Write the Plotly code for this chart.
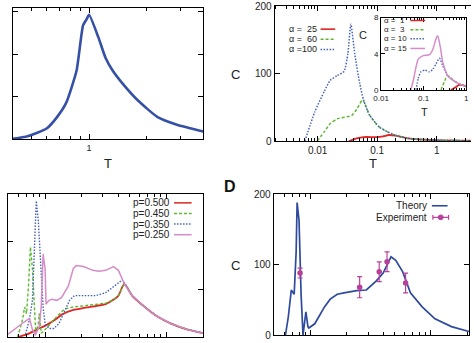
import plotly.graph_objects as go

W, H = 474, 343

# ---------------- data ----------------
# Panel A
a_T = [0.40, 0.477, 0.60, 0.68, 0.76, 0.86, 0.93, 0.97, 1.0, 1.12, 1.22, 1.33, 1.49, 1.80, 2.28, 2.88, 3.95]
a_C = [0.01, 0.07, 0.25, 0.52, 0.86, 1.61, 2.68, 2.82, 2.93, 2.39, 1.91, 1.61, 1.32, 0.91, 0.52, 0.34, 0.18]

# Panel B main
b_tail_T = [0.074, 0.108, 0.183, 0.335, 0.927, 3.75]
b_tail_C = [39, 21, 10, 4, 1.4, 0.5]
b100_T = [0.00612, 0.00893, 0.0130, 0.0163, 0.0213, 0.0277, 0.0322, 0.0361, 0.0420, 0.0507, 0.0589] + b_tail_T
b100_C = [0, 43, 74, 90, 97, 103, 130, 173, 129, 86, 61] + b_tail_C
b60_T = [0.0098, 0.0130, 0.0163, 0.0213, 0.0310, 0.0375, 0.0453, 0.0568] + b_tail_T
b60_C = [0, 14, 26, 33, 36, 38, 47, 61] + b_tail_C
b25_T = [0.0335, 0.0453, 0.0589, 0.0964, 0.125, 0.157, 0.205, 0.335, 0.927, 3.75]
b25_C = [0, 4, 6, 6, 7, 9, 8, 4, 1.4, 0.5]

# Panel B inset
i_tail_T = [0.366, 0.521, 0.740, 1.0]
i_tail_C = [1.6, 1.0, 0.62, 0.4]
i15_T = [0.0498, 0.0574, 0.0647, 0.0748, 0.0975, 0.139, 0.165, 0.197, 0.215, 0.248, 0.281] + i_tail_T
i15_C = [0, 1.1, 2.3, 3.4, 3.8, 3.9, 4.5, 5.7, 6.0, 4.7, 3.1] + i_tail_C
i10_T = [0.0662, 0.0748, 0.0863, 0.107, 0.139, 0.165, 0.197, 0.236, 0.281] + i_tail_T
i10_C = [0, 1.3, 2.0, 2.2, 2.0, 2.3, 2.9, 3.5, 2.7] + i_tail_C
i3_T = [0.256, 0.307] + i_tail_T
i3_C = [0, 0.9] + i_tail_C
i1_T = [0.436, 0.568, 0.68, 0.81, 1.0]
i1_C = [0, 0.3, 0.55, 0.55, 0.4]

# Panel C
c_tail_T = [5.22, 6.65, 8.45, 10.96, 14.8, 20.2]
c_tail_C = [0.87, 0.63, 0.43, 0.28, 0.16, 0.08]
c500_T = [0.60, 0.716, 0.861, 1.04, 1.25, 1.37, 1.71, 2.07, 2.62, 3.16, 3.60, 4.03, 4.50] + c_tail_T
c500_C = [0.0, 0.06, 0.16, 0.26, 0.39, 0.47, 0.57, 0.61, 0.65, 0.69, 0.77, 0.87, 1.12] + c_tail_C
c450_T = [0.594, 0.653, 0.677, 0.703, 0.730, 0.757, 0.786, 0.815, 0.838, 0.879, 0.895, 0.929, 1.04, 1.25, 1.45, 1.71, 2.31, 3.16, 3.60, 4.03, 4.50] + c_tail_T
c450_C = [0, 0.37, 0.63, 0.49, 1.08, 1.89, 1.44, 0.49, 0.08, 0.28, 0.49, 0.08, 0.2, 0.43, 0.59, 0.63, 0.67, 0.71, 0.77, 0.87, 1.12] + c_tail_C
c350_T = [0.690, 0.743, 0.786, 0.815, 0.846, 0.879, 0.911, 0.929, 0.963, 1.0, 1.077, 1.18, 1.30, 1.42, 1.59, 1.75, 2.07, 2.62, 3.16, 3.81, 4.34, 4.67] + c_tail_T
c350_C = [0.06, 0.37, 0.77, 1.78, 2.86, 2.45, 1.70, 1.10, 0.63, 0.28, 0.18, 0.18, 0.28, 0.49, 0.77, 0.87, 0.87, 0.87, 0.93, 1.10, 1.20, 1.08] + c_tail_C
c250_T = [0.494, 0.594, 0.677, 0.743, 0.786, 0.830, 0.895, 0.929, 0.963, 1.0, 1.019, 1.077, 1.14, 1.25, 1.37, 1.56, 1.71, 1.81, 2.07, 2.48, 2.78, 3.16, 3.67, 4.03, 4.50] + c_tail_T
c250_C = [0.06, 0.22, 0.32, 0.39, 0.16, 0.04, 0.22, 0.63, 1.74, 1.44, 0.69, 0.77, 0.79, 0.77, 0.83, 1.08, 1.44, 1.50, 1.48, 1.40, 1.38, 1.40, 1.48, 1.40, 1.12] + c_tail_C

# Panel D
d_T = [0.615, 0.650, 0.688, 0.727, 0.755, 0.769, 0.798, 0.830, 0.861, 0.910, 0.946, 0.963, 1.078, 1.30, 1.45, 1.66, 1.89, 2.41, 2.90, 3.51, 4.00, 4.65, 5.09, 5.81, 6.75, 8.45, 10.8, 14.8, 20.7]
d_C = [0, 26, 64, 58, 118, 188, 163, 58, 0, 33, 12, 10, 16, 40, 51, 58, 60, 63, 64, 77, 88, 111, 106, 90, 60, 40, 23, 12, 5]
e_T = [0.814, 2.55, 3.71, 4.31, 6.15]
e_C = [88, 68, 90, 104, 74]
e_err = [7, 15, 14, 14, 14]

NB = "\u00a0"
legend_B = ["\u03b1 =" + NB * 2 + "25", "\u03b1 =" + NB * 2 + "60", "\u03b1 =100"]
legend_I = ["\u03b1 =" + NB * 2 + "1", "\u03b1 =" + NB * 2 + "3", "\u03b1 = 10", "\u03b1 = 15"]
legend_C = ["p=0.500", "p=0.450", "p=0.350", "p=0.250"]
legend_D = ["Theory", "Experiment"]

RED = "#dd2525"
GREEN = "#5cb82e"
BLUE = "#4563b3"
PINK = "#d58cc8"
ABLUE = "#3550a5"
DBLUE = "#2d4a9c"
EPINK = "#b8409a"
FONT = "Liberation Sans, Arial, sans-serif"


def px(x):
    return x / W


def py(y):
    return 1 - y / H


def minors(decades, lo=None, hi=None):
    vals = []
    for d in decades:
        for k in range(2, 10):
            v = k * d
            if (lo is None or v >= lo) and (hi is None or v <= hi):
                vals.append(v)
    return vals


fig = go.Figure()

# Panel A
fig.add_trace(go.Scatter(x=a_T, y=a_C, mode="lines", line=dict(color=ABLUE, width=2.6, shape="spline", smoothing=0.5),
                         xaxis="x", yaxis="y", showlegend=False))
# Panel B
fig.add_trace(go.Scatter(x=b25_T, y=b25_C, mode="lines", line=dict(color=RED, width=1.8, shape="spline", smoothing=0.6),
                         xaxis="x2", yaxis="y2", showlegend=False))
fig.add_trace(go.Scatter(x=b60_T, y=b60_C, mode="lines", line=dict(color=GREEN, width=1.5, dash="3px,2px", shape="spline", smoothing=0.6),
                         xaxis="x2", yaxis="y2", showlegend=False))
fig.add_trace(go.Scatter(x=b100_T, y=b100_C, mode="lines", line=dict(color=BLUE, width=1.5, dash="1.5px,1.5px", shape="spline", smoothing=0.6),
                         xaxis="x2", yaxis="y2", showlegend=False))
# Inset
fig.add_trace(go.Scatter(x=i1_T, y=i1_C, mode="lines", line=dict(color=RED, width=1.8, shape="spline", smoothing=0.6),
                         xaxis="x3", yaxis="y3", showlegend=False))
fig.add_trace(go.Scatter(x=i3_T, y=i3_C, mode="lines", line=dict(color=GREEN, width=1.4, dash="3px,2px", shape="spline", smoothing=0.6),
                         xaxis="x3", yaxis="y3", showlegend=False))
fig.add_trace(go.Scatter(x=i10_T, y=i10_C, mode="lines", line=dict(color=BLUE, width=1.4, dash="1.5px,1.5px", shape="spline", smoothing=0.6),
                         xaxis="x3", yaxis="y3", showlegend=False))
fig.add_trace(go.Scatter(x=i15_T, y=i15_C, mode="lines", line=dict(color=PINK, width=1.5, shape="spline", smoothing=0.6),
                         xaxis="x3", yaxis="y3", showlegend=False))
# Panel C
fig.add_trace(go.Scatter(x=c500_T, y=c500_C, mode="lines", line=dict(color=RED, width=1.8, shape="spline", smoothing=0.5),
                         xaxis="x4", yaxis="y4", showlegend=False))
fig.add_trace(go.Scatter(x=c450_T, y=c450_C, mode="lines", line=dict(color=GREEN, width=1.4, dash="3px,2px"),
                         xaxis="x4", yaxis="y4", showlegend=False))
fig.add_trace(go.Scatter(x=c350_T, y=c350_C, mode="lines", line=dict(color=BLUE, width=1.4, dash="1.5px,1.5px"),
                         xaxis="x4", yaxis="y4", showlegend=False))
fig.add_trace(go.Scatter(x=c250_T, y=c250_C, mode="lines", line=dict(color=PINK, width=1.5),
                         xaxis="x4", yaxis="y4", showlegend=False))
# Panel D
fig.add_trace(go.Scatter(x=d_T, y=d_C, mode="lines", line=dict(color=DBLUE, width=1.7),
                         xaxis="x5", yaxis="y5", showlegend=False))
fig.add_trace(go.Scatter(x=e_T, y=e_C, mode="markers", marker=dict(color=EPINK, size=5.5, symbol="circle"),
                         error_y=dict(type="data", array=e_err, color=EPINK, thickness=1.2, width=2.5),
                         xaxis="x5", yaxis="y5", showlegend=False))

common = dict(showline=True, linecolor="black", linewidth=1, ticks="inside", ticklen=5, tickcolor="black",
              showgrid=False, zeroline=False, tickfont=dict(family=FONT, size=10, color="#222"))

layout_axes = dict(
    xaxis=dict(common, type="log", domain=[px(5), px(200)], range=[-0.398, 0.597], tickvals=[1], ticktext=["1"],
               mirror="allticks", minor=dict(tickmode="array", tickvals=[0.5, 0.6, 0.7, 0.8, 0.9, 2, 3, 4], ticklen=3, ticks="inside", tickcolor="black"),
               anchor="y", tickfont=dict(family=FONT, size=9, color="#222")),
    yaxis=dict(common, domain=[py(138), py(2)], range=[0, 3.09], tickvals=[0, 1, 2, 3], showticklabels=False,
               mirror="allticks", anchor="x"),
    xaxis2=dict(common, type="log", domain=[px(273), 1.0], range=[-2.721, 0.574], tickvals=[0.01, 0.1, 1],
                ticktext=["0.01", "0.1", "1"], mirror="allticks",
                minor=dict(tickmode="array", tickvals=minors([0.001, 0.01, 0.1, 1]), ticklen=3, ticks="inside", tickcolor="black"),
                anchor="y2"),
    yaxis2=dict(common, domain=[py(140), 1.0], range=[0, 200], tickvals=[0, 100, 200], ticktext=["0", "100", "200"],
                mirror=False, anchor="x2"),
    xaxis3=dict(common, type="log", domain=[px(382), px(469)], range=[-2, 0], tickvals=[0.01, 0.1, 1],
                ticktext=["0.01", "0.1", "1"], mirror="allticks", ticklen=4,
                minor=dict(tickmode="array", tickvals=minors([0.01, 0.1]), ticklen=2, ticks="inside", tickcolor="black"),
                anchor="y3", tickfont=dict(family=FONT, size=8, color="#222")),
    yaxis3=dict(common, domain=[py(87), py(12)], range=[0, 8], tickvals=[0, 4, 8], ticktext=["0", "4", "8"],
                mirror="allticks", ticklen=4, anchor="x3", tickfont=dict(family=FONT, size=8, color="#222")),
    xaxis4=dict(common, type="log", domain=[0.0, px(200)], range=[-0.306, 1.306], tickvals=[1, 10], showticklabels=False,
                mirror="allticks", minor=dict(tickmode="array", tickvals=minors([0.1, 1, 10], 0.49, 20.3), ticklen=3, ticks="inside", tickcolor="black"),
                anchor="y4"),
    yaxis4=dict(common, domain=[0.0, py(195)], range=[0, 3.0], tickvals=[1, 2], showticklabels=False,
                mirror="allticks", anchor="x4"),
    xaxis5=dict(common, type="log", domain=[px(272), px(472)], range=[-0.309, 1.317], tickvals=[1, 10], showticklabels=False,
                mirror="allticks", minor=dict(tickmode="array", tickvals=minors([0.1, 1, 10], 0.49, 20.7), ticklen=3, ticks="inside", tickcolor="black"),
                anchor="y5"),
    yaxis5=dict(common, domain=[py(341), py(195)], range=[0, 200], tickvals=[0, 100, 200], ticktext=["0", "100", "200"],
                mirror="allticks", anchor="x5"),
)

annotations = []


def ann(text, x, y, size=12, xanchor="center", bold=False, color="#222"):
    t = "<b>%s</b>" % text if bold else text
    annotations.append(dict(text=t, x=px(x), y=py(y), xref="paper", yref="paper", xanchor=xanchor, yanchor="middle",
                            showarrow=False, borderpad=0, font=dict(family=FONT, size=size, color=color)))


ann("T", 102, 163, 13)
ann("T", 374, 163, 13)
ann("T", 426, 110, 11)
ann("C", 233, 71, 13)
ann("C", 363, 30, 11)
ann("C", 233, 269, 13)
ann("D", 227, 187, 16, bold=True, color="#111")

shapes = []


def sample(x0, x1, y, color, dash="solid", width=1.8):
    shapes.append(dict(type="line", xref="paper", yref="paper", x0=px(x0), x1=px(x1), y0=py(y), y1=py(y),
                       line=dict(color=color, width=width, dash=dash)))


# Legend B
for lab, yy, col, dsh in zip(legend_B, [24, 34.5, 45], [RED, GREEN, BLUE], ["solid", "3px,2px", "1.5px,1.5px"]):
    ann(lab, 317, yy, 9, xanchor="right")
    sample(320, 335, yy, col, dsh, 1.6)
# Legend inset
for lab, yy, col, dsh in zip(legend_I, [15, 24.5, 34, 44], [RED, GREEN, BLUE, PINK], ["solid", "3px,2px", "1.5px,1.5px", "solid"]):
    ann(lab, 384, yy, 8, xanchor="left")
    sample(412, 427, yy, col, dsh, 1.5)
# Legend C
for lab, yy, col, dsh in zip(legend_C, [204, 215, 226, 237], [RED, GREEN, BLUE, PINK], ["solid", "3px,2px", "1.5px,1.5px", "solid"]):
    ann(lab, 167, yy, 10, xanchor="right")
    sample(170, 188, yy, col, dsh, 1.5)
# Legend D
ann(legend_D[0], 430, 207, 10, xanchor="right")
sample(434, 450, 207, DBLUE, "solid", 1.6)
ann(legend_D[1], 430, 219, 10, xanchor="right")
sample(435, 451, 219, EPINK, "solid", 1.2)
for xx in (435, 451):
    shapes.append(dict(type="line", xref="paper", yref="paper", x0=px(xx), x1=px(xx), y0=py(216.5), y1=py(221.5),
                       line=dict(color=EPINK, width=1.2)))
shapes.append(dict(type="circle", xref="paper", yref="paper", x0=px(440.5), x1=px(445.5), y0=py(221.5), y1=py(216.5),
                   fillcolor=EPINK, line=dict(color=EPINK, width=1)))

fig.update_layout(width=W, height=H, margin=dict(l=0, r=0, t=0, b=0), paper_bgcolor="white", plot_bgcolor="white",
                  annotations=annotations, shapes=shapes, showlegend=False, **layout_axes)

fig.write_html("out.html")
